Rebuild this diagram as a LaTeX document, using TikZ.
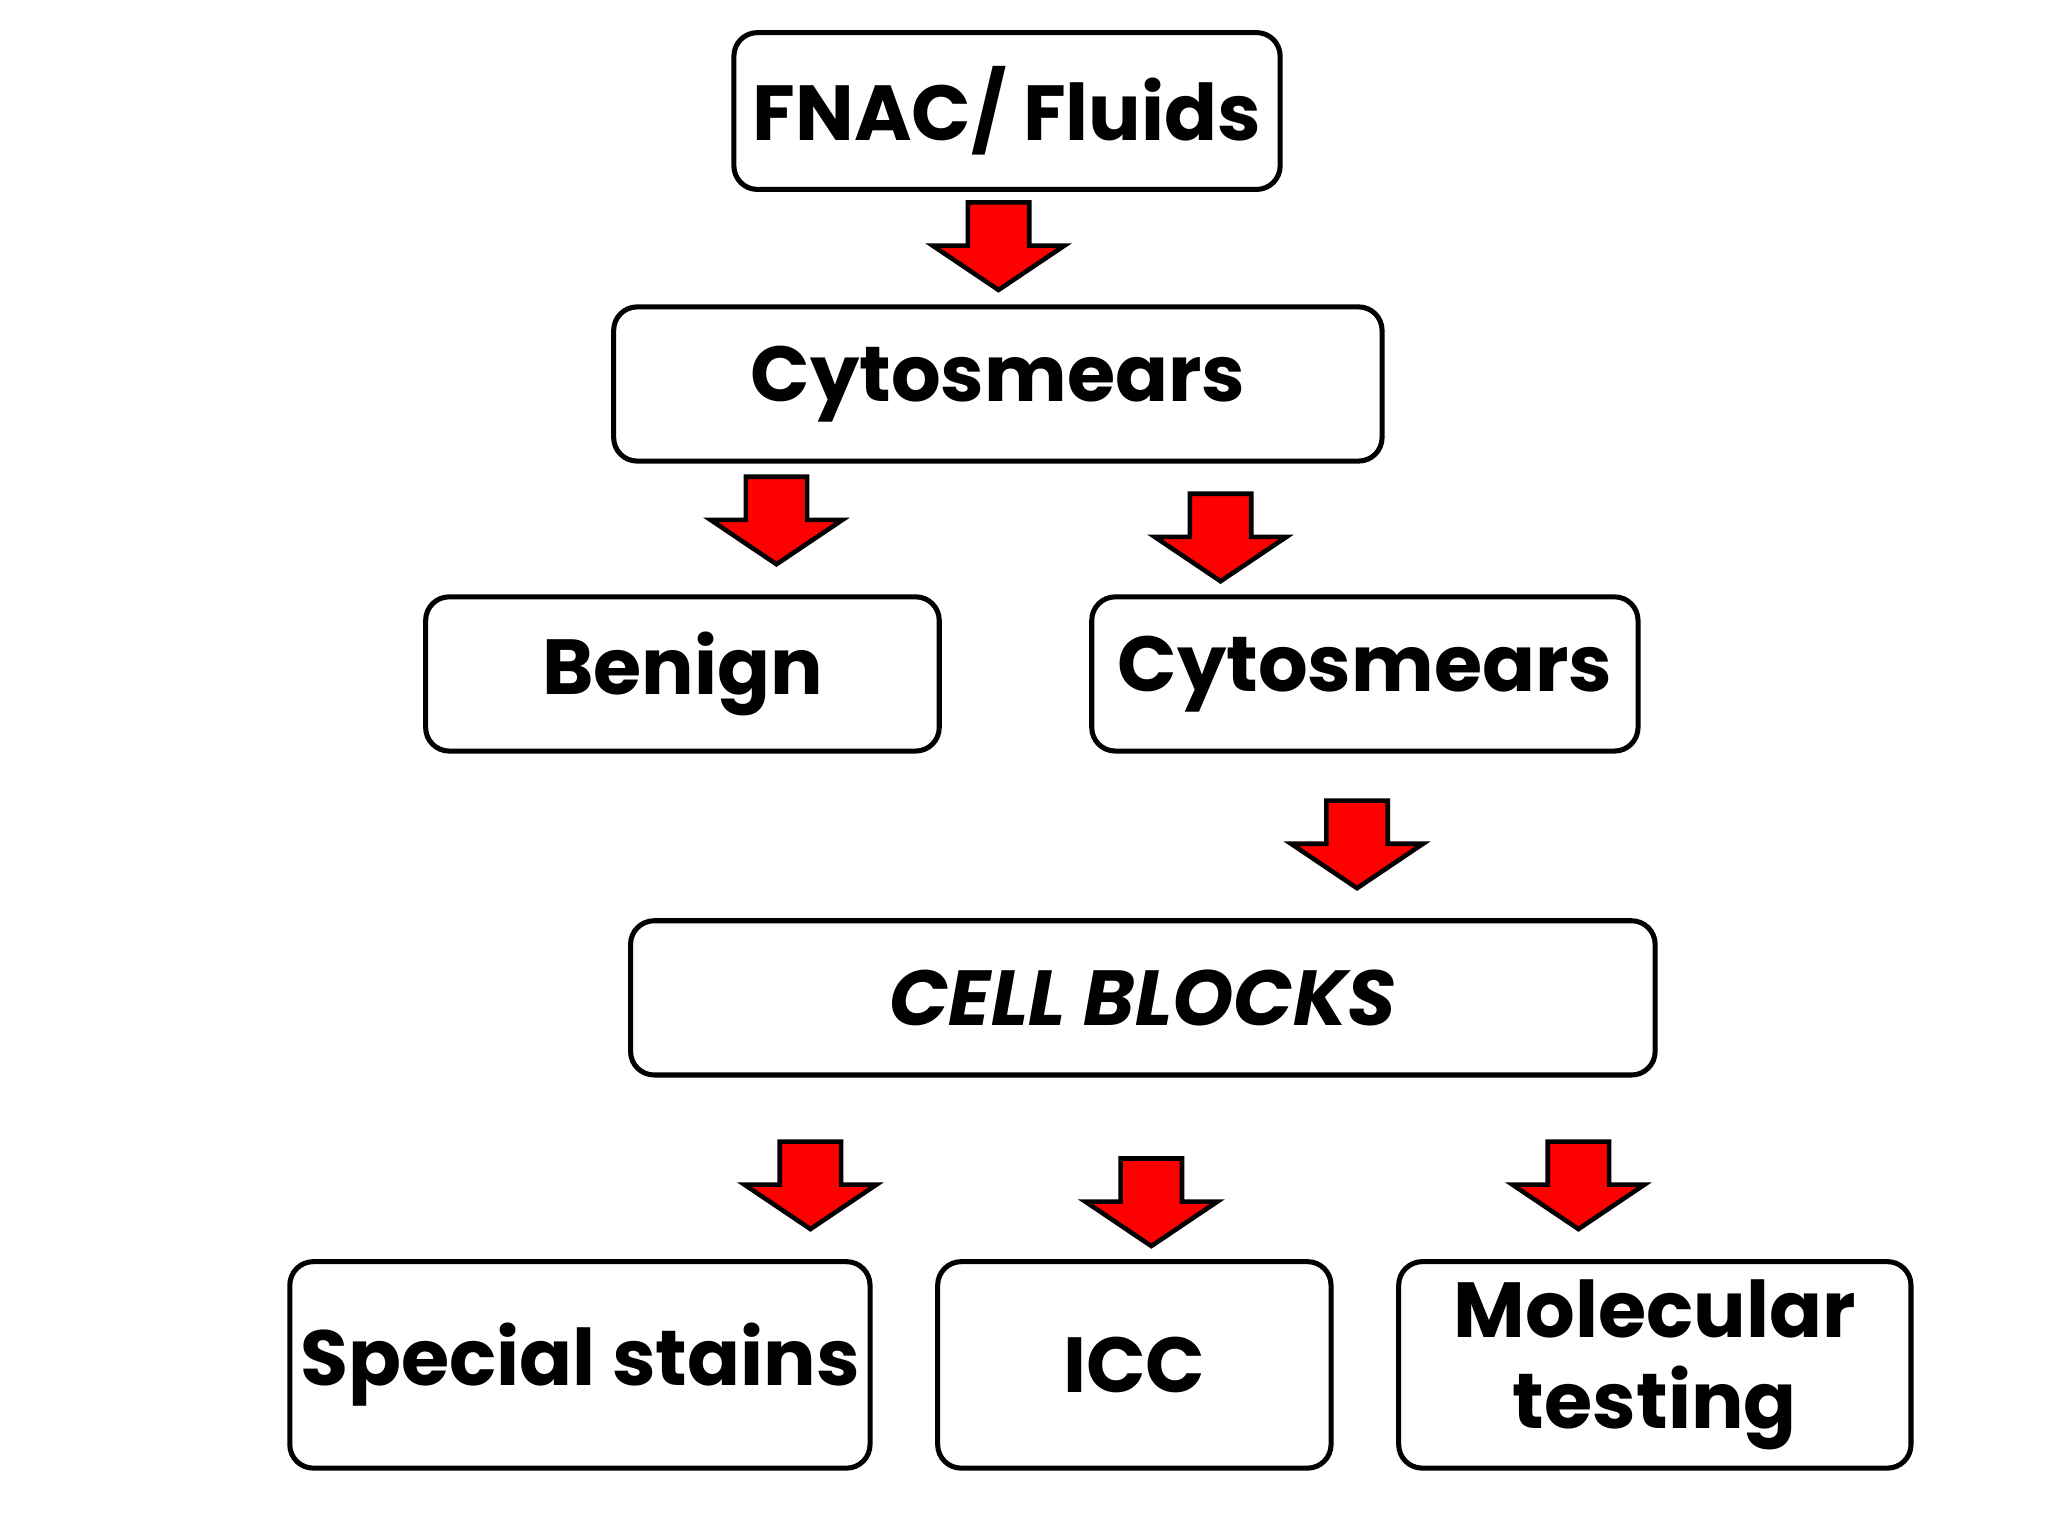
\documentclass[tikz,border=0pt]{standalone}
\usepackage{fontspec}
\setmainfont{Poppins}
\usetikzlibrary{positioning}

\tikzset{
    box/.style={rectangle,draw,line width=1.1pt,rounded corners=0.18cm,
        font=\fontsize{17}{20}\selectfont\bfseries,align=center,inner sep=0pt},
    redarrow/.style={fill=red,draw=black,line width=1pt,line join=miter}
}
% block arrow: centre x, top y (in px units)
\newcommand{\blockarrow}[2]{
    \draw[redarrow] (#1-23.5,#2) -- (#1+23.5,#2) -- (#1+23.5,#2+33) -- (#1+50.5,#2+33)
        -- (#1,#2+67) -- (#1-50.5,#2+33) -- (#1-23.5,#2+33) -- cycle;
}

\begin{document}
\begin{tikzpicture}[x=0.01cm,y=-0.01cm]
    \useasboundingbox (0,0) rectangle (1568,1176);
    \node[box,minimum width=4.18cm,minimum height=1.2cm] (fnac) at (771,85) {FNAC/ Fluids};
    \node[box,minimum width=5.88cm,minimum height=1.18cm] (cyto) at (764,294) {Cytosmears};
    \node[box,minimum width=3.93cm,minimum height=1.18cm] (benign) at (522.5,516) {Benign};
    \node[box,minimum width=4.18cm,minimum height=1.18cm] (cytob) at (1045,516) {Cytosmears};
    \node[box,minimum width=7.84cm,minimum height=1.18cm,font=\fontsize{17}{20}\selectfont\bfseries\itshape] (cell) at (875,764) {CELL BLOCKS};
    \node[box,minimum width=4.44cm,minimum height=1.58cm] (stains) at (444,1045) {Special stains};
    \node[box,minimum width=3.01cm,minimum height=1.58cm] (icc) at (868.5,1045) {ICC};
    \node[box,minimum width=3.92cm,minimum height=1.58cm] (mol) at (1267,1045) {Molecular\\testing};
    %Red arrows between the levels
    \blockarrow{764.5}{155}
    \blockarrow{594.5}{365}
    \blockarrow{934.5}{378}
    \blockarrow{1039}{613}
    \foreach \x/\y in {620.5/874,881.5/887,1208.5/874} {
        \blockarrow{\x}{\y}
    }
\end{tikzpicture}
\end{document}
